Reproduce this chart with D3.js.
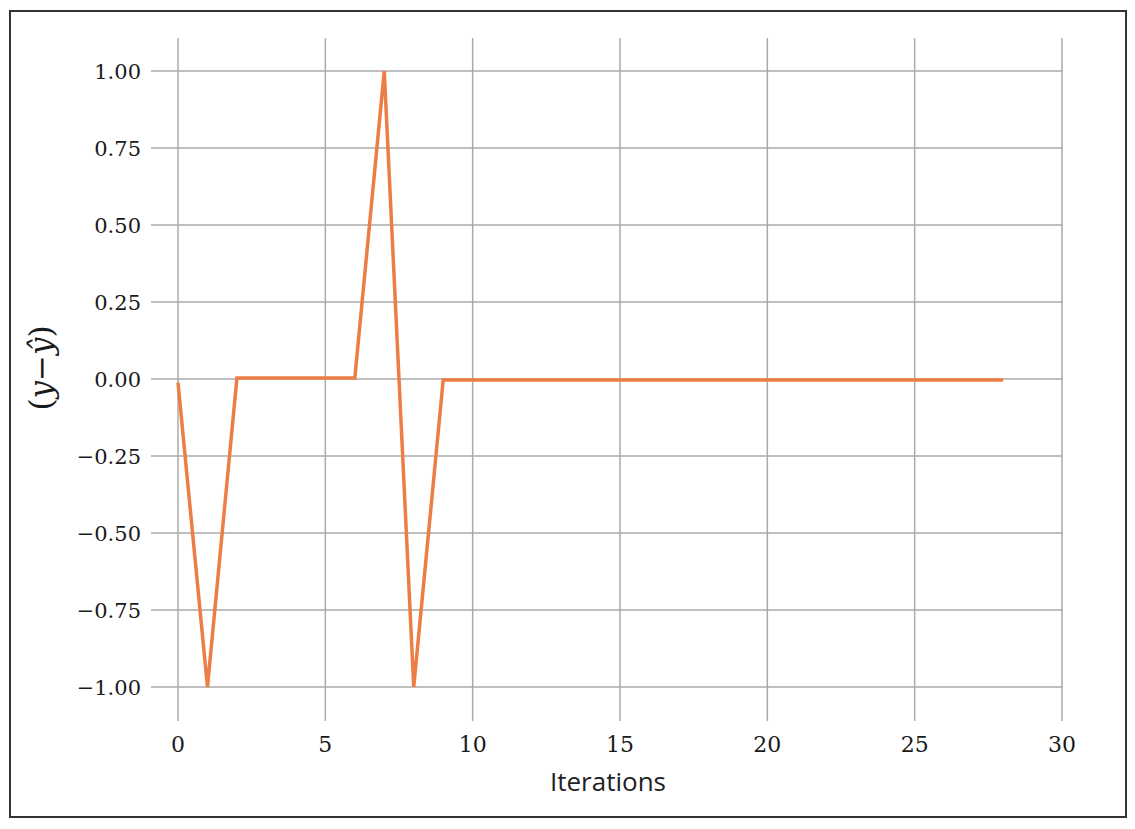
<!DOCTYPE html>
<html>
<head>
<meta charset="utf-8">
<script src="https://cdn.jsdelivr.net/npm/d3@7"></script>
<style>
  body { margin: 0; background: #fff; }
</style>
</head>
<body>
<div id="chart"></div>
<script>
// iterations and error values
const iterations = d3.range(0, 29);
const errors = [-0.012, -1, 0.003, 0.003, 0.003, 0.003, 0.003, 1, -1,
    -0.003, -0.003, -0.003, -0.003, -0.003, -0.003, -0.003, -0.003, -0.003, -0.003,
    -0.003, -0.003, -0.003, -0.003, -0.003, -0.003, -0.003, -0.003, -0.003, -0.003];
const xTicks = [0, 5, 10, 15, 20, 25, 30];
const yTicks = [-1, -0.75, -0.5, -0.25, 0, 0.25, 0.5, 0.75, 1];

const width = 1135, height = 829;

const svg = d3.select("#chart").append("svg")
    .attr("width", width)
    .attr("height", height);

// frame
svg.append("rect")
    .attr("x", 10).attr("y", 11)
    .attr("width", 1116).attr("height", 806)
    .attr("fill", "none")
    .attr("stroke", "#333")
    .attr("stroke-width", 2);

const x = d3.scaleLinear().domain([0, 30]).range([178, 1062]);
const y = d3.scaleLinear().domain([-1, 1]).range([687, 71]);

const grid = svg.append("g")
    .attr("stroke", "#aaa")
    .attr("stroke-width", 1.5);

grid.selectAll("line.h")
    .data(yTicks)
    .enter().append("line")
        .attr("class", "h")
        .attr("x1", 151)
        .attr("x2", x(30))
        .attr("y1", d => y(d))
        .attr("y2", d => y(d));

grid.selectAll("line.v")
    .data(xTicks)
    .enter().append("line")
        .attr("class", "v")
        .attr("x1", d => x(d))
        .attr("x2", d => x(d))
        .attr("y1", 38)
        .attr("y2", 721);

// y tick labels
const fmt = d3.format(".2f");
svg.append("g")
    .style("font", "21px 'DejaVu Serif'")
    .attr("fill", "#1a1a1a")
    .selectAll("text")
    .data(yTicks)
    .enter().append("text")
        .attr("x", 141)
        .attr("y", d => y(d))
        .attr("dy", "0.36em")
        .attr("text-anchor", "end")
        .text(d => fmt(d));

// x tick labels
svg.append("g")
    .style("font", "22px 'DejaVu Serif'")
    .attr("fill", "#1a1a1a")
    .selectAll("text")
    .data(xTicks)
    .enter().append("text")
        .attr("x", d => x(d))
        .attr("y", 752)
        .attr("text-anchor", "middle")
        .text(d => d);

// the series
const line = d3.line()
    .x((d, i) => x(iterations[i]))
    .y(d => y(d));

svg.append("path")
    .datum(errors)
    .attr("fill", "none")
    .attr("stroke", "#ed7d45")
    .attr("stroke-width", 3.5)
    .attr("stroke-linejoin", "miter")
    .attr("d", line);

// axis titles
svg.append("text")
    .attr("x", 608)
    .attr("y", 791)
    .attr("text-anchor", "middle")
    .style("font", "26px 'Open Sans'")
    .attr("fill", "#222")
    .text("Iterations");

const yl = svg.append("text")
    .attr("transform", "translate(52,368) rotate(-90)")
    .attr("text-anchor", "middle")
    .style("font", "31px 'DejaVu Serif'")
    .attr("fill", "#1a1a1a");
yl.append("tspan").text("(");
yl.append("tspan").style("font-style", "italic").text("y");
yl.append("tspan").text("\u2212");
yl.append("tspan").style("font-style", "italic").text("\u0177");
yl.append("tspan").text(")");
</script>
</body>
</html>
